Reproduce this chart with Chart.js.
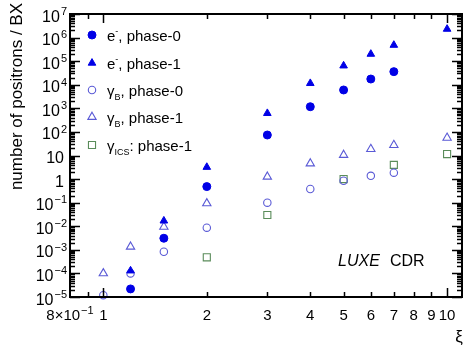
<!DOCTYPE html>
<html>
<head>
<meta charset="utf-8">
<script src="https://cdn.jsdelivr.net/npm/chart.js@4"></script>
<style>
  html, body { margin: 0; padding: 0; background: #fff; }
  #wrap { width: 474px; height: 353px; }
</style>
</head>
<body>
<div id="wrap"><canvas id="c" width="474" height="353"></canvas></div>
<script>
// xi values (x axis)
const xi = [1, 1.2, 1.5, 2, 3, 4, 5, 6, 7, 10];

// number of positrons / BX (null = not shown)
const ePhase0   = [null, 2.2e-5, 3.1e-3, 0.48, 74, 1170, 6000, 1.75e4, 3.6e4, null];
const ePhase1   = [null, 1.3e-4, 0.017, 3.2, 616, 1.15e4, 6.4e4, 2.0e5, 4.8e5, 2.3e6];
const gbPhase0  = [1.2e-5, 1.0e-4, 8.3e-4, 8.7e-3, 0.10, 0.38, 0.85, 1.38, 1.87, null];
const gbPhase1  = [1.0e-4, 1.35e-3, 9.5e-3, 0.093, 1.26, 4.6, 10.5, 18.7, 27.8, 56];
const icsPhase1 = [null, null, null, 4.8e-4, 0.030, null, 1.0, null, 4.0, 11.5];

// axis ticks
const yDecades = [-5, -4, -3, -2, -1, 0, 1, 2, 3, 4, 5, 6, 7];
const xTickLabels = [
  { v: 0.8, base: '8×10', sup: '−1' },
  { v: 1, base: '1' }, { v: 2, base: '2' }, { v: 3, base: '3' }, { v: 4, base: '4' },
  { v: 5, base: '5' }, { v: 6, base: '6' }, { v: 7, base: '7' }, { v: 8, base: '8' },
  { v: 9, base: '9' }, { v: 10, base: '10' }
];
const xMinorTicks = [0.9, 2, 3, 4, 5, 6, 7, 8, 9];
const xMajorTicks = [1, 10];

const FONT = '"Liberation Sans", Arial, Helvetica, sans-serif';
const BLUE = '#0000e6';
const LBLUE = '#5a5ad6';
const GREEN = '#5a8c5a';

function toPoints(ys) {
  const out = [];
  ys.forEach((y, i) => { if (y !== null) out.push({ x: xi[i], y: y }); });
  return out;
}

const datasets = [
  { label: 'e-, phase-0', data: toPoints(ePhase0), pointStyle: 'circle', pointRadius: 4,
    backgroundColor: BLUE, borderColor: BLUE, pointBorderWidth: 1,
    legend: { base: 'e', sup: '-', rest: ', phase-0' } },
  { label: 'e-, phase-1', data: toPoints(ePhase1), pointStyle: 'triangle', pointRadius: 4.4,
    backgroundColor: BLUE, borderColor: BLUE, pointBorderWidth: 1,
    legend: { base: 'e', sup: '-', rest: ', phase-1' } },
  { label: 'gB, phase-0', data: toPoints(gbPhase0), pointStyle: 'circle', pointRadius: 3.7,
    backgroundColor: 'rgba(0,0,0,0)', borderColor: LBLUE, pointBorderWidth: 1.1,
    legend: { base: 'γ', sub: 'B', rest: ', phase-0' } },
  { label: 'gB, phase-1', data: toPoints(gbPhase1), pointStyle: 'triangle', pointRadius: 4.8,
    backgroundColor: 'rgba(0,0,0,0)', borderColor: LBLUE, pointBorderWidth: 1.1,
    legend: { base: 'γ', sub: 'B', rest: ', phase-1' } },
  { label: 'gICS: phase-1', data: toPoints(icsPhase1), pointStyle: 'rect', pointRadius: 5,
    backgroundColor: 'rgba(0,0,0,0)', borderColor: GREEN, pointBorderWidth: 1.1,
    legend: { base: 'γ', sub: 'ICS', rest: ': phase-1' } }
];
datasets.forEach(d => { d.clip = false; d.pointHoverRadius = d.pointRadius; });

// text with optional superscript, right/center aligned
function drawSupText(ctx, base, sup, x, y, align, size) {
  ctx.font = size + 'px ' + FONT;
  const wb = ctx.measureText(base).width;
  ctx.font = Math.round(size * 0.7) + 'px ' + FONT;
  const ws = sup ? ctx.measureText(sup).width + 1 : 0;
  const total = wb + ws;
  let x0 = x - total;
  if (align === 'center') x0 = x - total / 2;
  ctx.textAlign = 'left';
  ctx.textBaseline = 'alphabetic';
  ctx.font = size + 'px ' + FONT;
  ctx.fillText(base, x0, y);
  if (sup) {
    ctx.font = Math.round(size * 0.7) + 'px ' + FONT;
    ctx.fillText(sup, x0 + wb + 1, y - size * 0.42);
  }
}

function drawMarker(ctx, ds, x, y) {
  ctx.save();
  ctx.fillStyle = ds.backgroundColor;
  ctx.strokeStyle = ds.borderColor;
  ctx.lineWidth = ds.pointBorderWidth;
  Chart.helpers.drawPoint(ctx, { pointStyle: ds.pointStyle, radius: ds.pointRadius, borderWidth: ds.pointBorderWidth }, x, y);
  ctx.restore();
}

const framePlugin = {
  id: 'frame',
  afterDraw(chart) {
    const ctx = chart.ctx;
    const a = chart.chartArea;
    const xs = chart.scales.x, ys = chart.scales.y;
    ctx.save();
    ctx.strokeStyle = '#000';
    ctx.fillStyle = '#000';

    // frame
    ctx.lineWidth = 2;
    ctx.strokeRect(a.left, a.top, a.right - a.left, a.bottom - a.top);

    // y ticks, both sides, inward
    ctx.lineWidth = 1.5;
    yDecades.forEach(d => {
      for (let k = 1; k <= 9; k++) {
        const v = k * Math.pow(10, d);
        if (v > 1e7 * 1.0001) continue;
        const py = Math.round(ys.getPixelForValue(v)) + 0.5;
        const len = k === 1 ? 10 : 5;
        ctx.beginPath();
        ctx.moveTo(a.left, py); ctx.lineTo(a.left + len, py);
        ctx.moveTo(a.right, py); ctx.lineTo(a.right - len, py);
        ctx.stroke();
      }
    });

    // x ticks, bottom and top, inward
    const xt = xMinorTicks.map(v => [v, 5]).concat(xMajorTicks.map(v => [v, 9]));
    xt.forEach(([v, len]) => {
      const px = Math.round(xs.getPixelForValue(v)) + 0.5;
      ctx.beginPath();
      ctx.moveTo(px, a.bottom); ctx.lineTo(px, a.bottom - len);
      ctx.moveTo(px, a.top); ctx.lineTo(px, a.top + len);
      ctx.stroke();
    });

    // y tick labels
    yDecades.forEach(d => {
      const py = ys.getPixelForValue(Math.pow(10, d));
      if (d === 0) drawSupText(ctx, '1', null, 64, py + 7.5, 'right', 16);
      else if (d === 1) drawSupText(ctx, '10', null, 64, py + 7.5, 'right', 16);
      else drawSupText(ctx, '10', String(d).replace('-', '−'), 67, py + 7.5, 'right', 16);
    });

    // x tick labels
    xTickLabels.forEach(t => {
      const px = xs.getPixelForValue(t.v);
      drawSupText(ctx, t.base, t.sup || null, px, 320, 'center', 15);
    });

    // axis titles
    ctx.font = '17px ' + FONT;
    ctx.textAlign = 'center';
    ctx.textBaseline = 'alphabetic';
    ctx.fillText('ξ', 459, 342);

    ctx.save();
    ctx.translate(22, 3);
    ctx.rotate(-Math.PI / 2);
    ctx.font = '17px ' + FONT;
    ctx.textAlign = 'right';
    ctx.fillText('number of positrons / BX', 0, 0);
    ctx.restore();

    // LUXE CDR
    ctx.textAlign = 'left';
    ctx.font = 'italic 16px ' + FONT;
    ctx.fillText('LUXE', 338, 266);
    ctx.font = '16px ' + FONT;
    ctx.fillText('CDR', 390, 266);

    // legend
    const rows = [35, 63, 90, 117, 145];
    chart.data.datasets.forEach((ds, i) => {
      const y = rows[i];
      drawMarker(ctx, ds, 92, y);
      ctx.fillStyle = '#000';
      const lg = ds.legend;
      let x = 107;
      const base = y + 5.5;
      ctx.font = '15px ' + FONT;
      ctx.textAlign = 'left';
      ctx.fillText(lg.base, x, base);
      x += ctx.measureText(lg.base).width;
      ctx.font = '9px ' + FONT;
      if (lg.sup) {
        ctx.fillText(lg.sup, x, base - 7);
        x += ctx.measureText(lg.sup).width;
      }
      if (lg.sub) {
        ctx.fillText(lg.sub, x, base + 4);
        x += ctx.measureText(lg.sub).width;
      }
      ctx.font = '15px ' + FONT;
      ctx.fillText(lg.rest, x, base);
    });
    ctx.restore();
  }
};

new Chart(document.getElementById('c').getContext('2d'), {
  type: 'scatter',
  data: { datasets: datasets },
  options: {
    responsive: false,
    animation: false,
    layout: { padding: { left: 70, right: 12, top: 14, bottom: 56 } },
    plugins: { legend: { display: false }, tooltip: { enabled: false } },
    scales: {
      x: { type: 'logarithmic', min: 0.8, max: 11.05, display: false },
      y: { type: 'logarithmic', min: 1e-5, max: 1e7, display: false }
    }
  },
  plugins: [framePlugin]
});
</script>
</body>
</html>
